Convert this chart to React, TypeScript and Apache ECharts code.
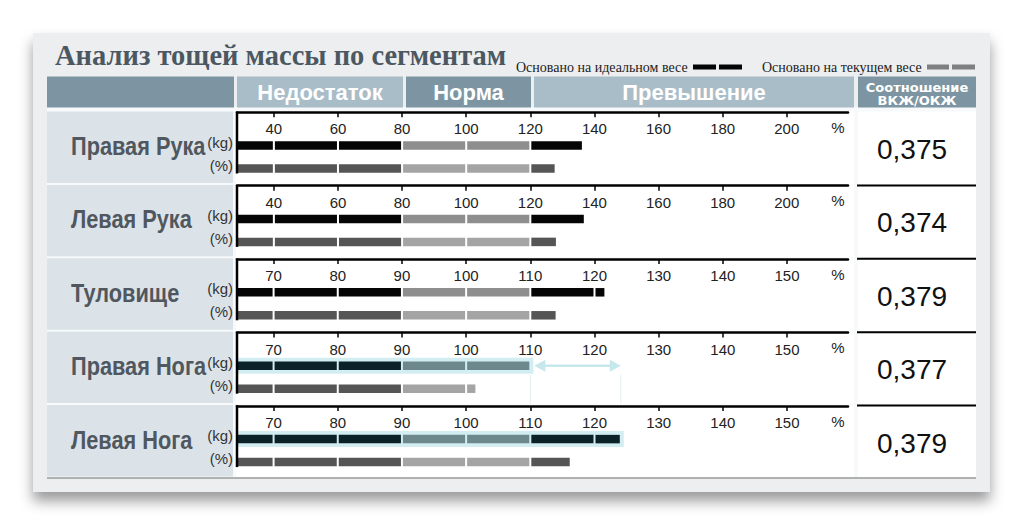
import { useEffect, useRef } from 'react';
import * as echarts from 'echarts';

const segmentNames = ['Правая Рука', 'Левая Рука', 'Туловище', 'Правая Нога', 'Левая Нога'];
const kgValues = [136.4, 137.0, 121.7, 110.0, 124.1];
const pctValues = [127.9, 128.3, 114.1, 101.6, 116.3];
const ratioLabels = ['0,375', '0,374', '0,379', '0,377', '0,379'];
const rowScale = ['limb', 'limb', 'body', 'body', 'body'];
const limbTicks = [40, 60, 80, 100, 120, 140, 160, 180, 200];
const bodyTicks = [70, 80, 90, 100, 110, 120, 130, 140, 150];
const limbExtent = [28.5, 219.1];
const bodyExtent = [64.3, 159.5];
const limbNormal = [80, 120];
const bodyNormal = [90, 110];
const highlightRows = [3, 4];
const arrowRow = 3;
const arrowRange = [110, 124.1];
const barLabels = ['(kg)', '(%)'];
const zoneLabels = ['Недостаток', 'Норма', 'Превышение'];
const legendLabels = ['Основано на идеальном весе', 'Основано на текущем весе'];
const titleText = 'Анализ тощей массы по сегментам';

// kinds: 0 kg out, 1 kg norm, 2 pct out, 3 pct norm, 4 kg out (hl), 5 kg norm (hl), 6 glow, 7 arrow
const kindColors = ['#050505', '#8e8e8e', '#555555', '#a4a4a4', '#0b2328', '#6c888c', '#d3eef2', '#c6e7eb'];

const SANS = "'Liberation Sans', Arial, sans-serif";
const SERIF = "'Liberation Serif', 'Times New Roman', serif";

const ROW_TOP = 110.5;
const ROW_H = 73.4;
const PLOT_L = 237;
const PLOT_R = 848;

const buildBar = (value: number, ticks: number[], extent: number[], normal: number[], cat: number, outKind: number, normKind: number) => {
  const stops = [extent[0], ...ticks.filter((t) => t > extent[0] && t < value), value];
  const items: number[][] = [];
  for (let i = 0; i < stops.length - 1; i++) {
    const mid = (stops[i] + stops[i + 1]) / 2;
    const inNorm = mid >= normal[0] && mid <= normal[1];
    items.push([stops[i], stops[i + 1], cat, inNorm ? normKind : outKind]);
  }
  return items;
};

const renderItem = (params: any, api: any) => {
  const kind = api.value(3);
  const cat = api.value(2);
  const p0 = api.coord([api.value(0), cat]);
  const p1 = api.coord([api.value(1), cat]);
  const color = kindColors[kind];
  if (kind === 6) {
    return {
      type: 'rect',
      shape: { x: p0[0], y: p0[1] - 8, width: p1[0] - p0[0] + 3, height: 16 },
      style: { fill: color }
    };
  }
  if (kind === 7) {
    const y = p0[1];
    return {
      type: 'group',
      children: [
        { type: 'line', shape: { x1: p0[0], y1: y + 9, x2: p0[0], y2: y + 38 }, style: { stroke: '#e4eef0', lineWidth: 1 } },
        { type: 'line', shape: { x1: p1[0], y1: y + 9, x2: p1[0], y2: y + 38 }, style: { stroke: '#e4eef0', lineWidth: 1 } },
        { type: 'line', shape: { x1: p0[0] + 10, y1: y, x2: p1[0] - 8, y2: y }, style: { stroke: color, lineWidth: 2.5 } },
        { type: 'polygon', shape: { points: [[p0[0] + 4, y], [p0[0] + 15, y - 6], [p0[0] + 15, y + 6]] }, style: { fill: color } },
        { type: 'polygon', shape: { points: [[p1[0], y], [p1[0] - 11, y - 6], [p1[0] - 11, y + 6]] }, style: { fill: color } }
      ]
    };
  }
  return {
    type: 'rect',
    shape: { x: p0[0] + 1, y: p0[1] - 4.25, width: Math.max(0, p1[0] - p0[0] - 2), height: 8.5 },
    style: { fill: color }
  };
};

const buildOption = () => {
  const grid: any[] = [];
  const xAxis: any[] = [];
  const yAxis: any[] = [];
  const series: any[] = [];
  const graphic: any[] = [];

  // panel and title
  graphic.push(
    { type: 'rect', z: -20, shape: { x: 33, y: 33, width: 957, height: 459 }, style: { fill: '#eceef0', shadowBlur: 14, shadowOffsetY: 9, shadowColor: 'rgba(0,0,0,0.4)' } },
    { type: 'rect', z: -19, shape: { x: 47, y: 107, width: 929, height: 371 }, style: { fill: '#f7f9fa' } },
    { type: 'text', z: 10, x: 55, y: 55, scaleX: 0.95, style: { text: titleText, font: `bold 30px ${SERIF}`, fill: '#4b5861', verticalAlign: 'middle' } },
    { type: 'text', z: 10, x: 516, y: 67, style: { text: legendLabels[0], font: `14px ${SERIF}`, fill: '#222', verticalAlign: 'middle' } },
    { type: 'rect', z: 10, shape: { x: 693, y: 64.5, width: 23, height: 5 }, style: { fill: '#050505' } },
    { type: 'rect', z: 10, shape: { x: 719, y: 64.5, width: 23, height: 5 }, style: { fill: '#050505' } },
    { type: 'text', z: 10, x: 762, y: 67, style: { text: legendLabels[1], font: `14px ${SERIF}`, fill: '#222', verticalAlign: 'middle' } },
    { type: 'rect', z: 10, shape: { x: 927, y: 64.5, width: 22, height: 5 }, style: { fill: '#808080' } },
    { type: 'rect', z: 10, shape: { x: 952, y: 64.5, width: 23, height: 5 }, style: { fill: '#808080' } }
  );

  // header
  const headerCells = [
    [47, 187, '#7d95a2'],
    [237, 166, '#a9bdc8'],
    [406, 125, '#7d95a2'],
    [534, 320, '#a9bdc8'],
    [858, 118, '#7d95a2']
  ] as [number, number, string][];
  headerCells.forEach(([x, w, c]) => {
    graphic.push({ type: 'rect', z: -10, shape: { x, y: 76.5, width: w, height: 31 }, style: { fill: c } });
  });
  zoneLabels.forEach((label, i) => {
    const [x, w] = headerCells[i + 1];
    graphic.push({ type: 'text', z: 10, x: x + w / 2, y: 92, style: { text: label, font: `bold 22px ${SANS}`, fill: '#fff', align: 'center', verticalAlign: 'middle' } });
  });
  graphic.push(
    { type: 'text', z: 10, x: 917, y: 87, style: { text: 'Соотношение', font: `bold 13px 'DejaVu Sans', sans-serif`, fill: '#fff', align: 'center', verticalAlign: 'middle' } },
    { type: 'text', z: 10, x: 917, y: 100, style: { text: 'ВКЖ/ОКЖ', font: `bold 13px 'DejaVu Sans', sans-serif`, fill: '#fff', align: 'center', verticalAlign: 'middle' } }
  );

  segmentNames.forEach((name, i) => {
    const top = ROW_TOP + i * ROW_H;
    const isLimb = rowScale[i] === 'limb';
    const ticks = isLimb ? limbTicks : bodyTicks;
    const extent = isLimb ? limbExtent : bodyExtent;
    const normal = isLimb ? limbNormal : bodyNormal;
    const hl = highlightRows.includes(i);

    graphic.push(
      { type: 'rect', z: -10, shape: { x: 47, y: top + 1, width: 186, height: ROW_H - 2 }, style: { fill: '#dbe3e9' } },
      { type: 'rect', z: -10, shape: { x: 236, y: top + 1, width: 618, height: ROW_H - 1 }, style: { fill: '#ffffff' } },
      { type: 'rect', z: -10, shape: { x: 858, y: top + 1, width: 118, height: ROW_H - 1 }, style: { fill: '#ffffff' } },
      { type: 'line', z: 5, shape: { x1: PLOT_L, y1: top + 1, x2: PLOT_L, y2: top + 63 }, style: { stroke: '#000', lineWidth: 2.5 } },
      { type: 'text', z: 10, x: 71, y: 36 + top, scaleX: 0.87, style: { text: name, font: `bold 25px ${SANS}`, fill: '#50575e', verticalAlign: 'middle' } },
      { type: 'text', z: 10, x: 838, y: top + 17, style: { text: '%', font: `15px ${SANS}`, fill: '#222', align: 'center', verticalAlign: 'middle' } },
      { type: 'text', z: 10, x: 912, y: top + 39, style: { text: ratioLabels[i], font: `28px ${SANS}`, fill: '#111', align: 'center', verticalAlign: 'middle' } }
    );
    if (i > 0) {
      graphic.push({ type: 'line', z: 5, shape: { x1: 857, y1: top + 1.5, x2: 976, y2: top + 1.5 }, style: { stroke: '#000', lineWidth: 2 } });
    }

    grid.push({ left: PLOT_L, width: PLOT_R - PLOT_L, top: top + 23.5, height: 46 });
    xAxis.push({
      type: 'value',
      gridIndex: i,
      position: 'top',
      offset: 21.7,
      min: extent[0],
      max: extent[1],
      axisLine: { show: true, lineStyle: { color: '#000', width: 2.5 } },
      axisTick: { show: true, inside: true, length: 5, customValues: ticks, lineStyle: { color: '#000', width: 1.5 } },
      axisLabel: { show: true, inside: true, margin: 9, customValues: ticks, fontSize: 15, color: '#222', fontFamily: SANS },
      splitLine: { show: false }
    });
    yAxis.push({
      type: 'category',
      gridIndex: i,
      inverse: true,
      data: barLabels,
      axisLine: { show: false },
      axisTick: { show: false },
      axisLabel: { margin: 4, fontSize: 15, color: '#333', fontFamily: SANS, verticalAlign: 'bottom', lineHeight: 7 }
    });

    const data: number[][] = [];
    if (hl) data.push([extent[0], kgValues[i], 0, 6]);
    data.push(...buildBar(kgValues[i], ticks, extent, normal, 0, hl ? 4 : 0, hl ? 5 : 1));
    data.push(...buildBar(pctValues[i], ticks, extent, normal, 1, 2, 3));
    if (i === arrowRow) data.push([arrowRange[0], arrowRange[1], 0, 7]);

    series.push({
      type: 'custom',
      xAxisIndex: i,
      yAxisIndex: i,
      renderItem,
      data,
      clip: false,
      silent: true
    });
  });

  graphic.push({ type: 'line', z: 5, shape: { x1: 47, y1: 478, x2: 976, y2: 478 }, style: { stroke: '#9a9a9a', lineWidth: 1.5 } });

  return { animation: false, backgroundColor: '#ffffff', grid, xAxis, yAxis, series, graphic };
};

export default function App() {
  const ref = useRef<HTMLDivElement | null>(null);

  useEffect(() => {
    if (!ref.current) {
      return;
    }
    const chart = echarts.init(ref.current, undefined, { renderer: 'svg' });
    chart.setOption(buildOption());
    return () => {
      chart.dispose();
    };
  }, []);

  return <div ref={ref} style={{ position: 'fixed', left: 0, top: 0, width: 1024, height: 527 }} />;
}
